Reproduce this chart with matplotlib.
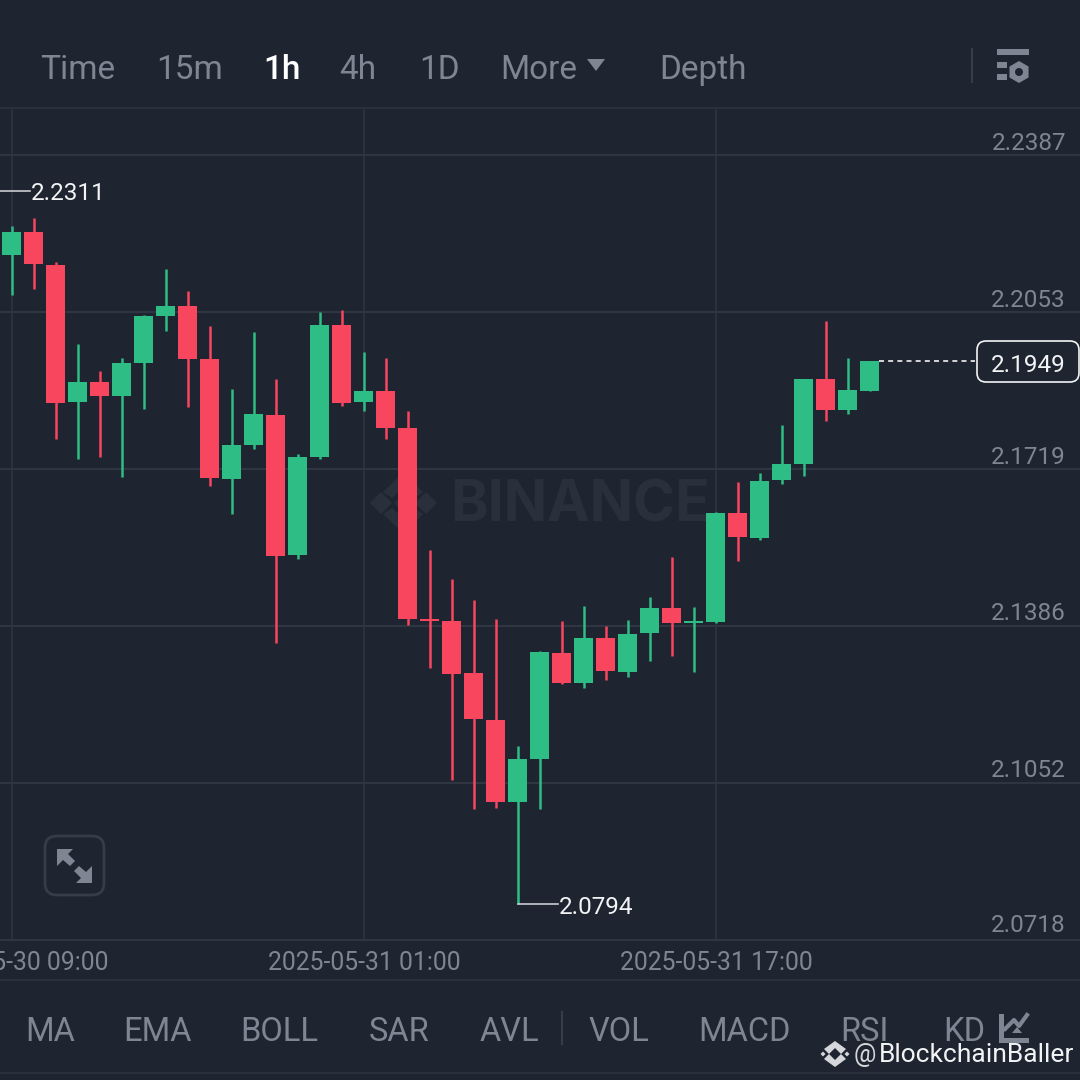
"""1h candlestick chart, dark exchange app screen."""

import matplotlib
matplotlib.use("Agg")
import matplotlib.pyplot as plt
from matplotlib.patches import Circle, FancyBboxPatch, Polygon, Rectangle, RegularPolygon

plt.rcParams["font.family"] = ["Roboto", "DejaVu Sans"]

BG = "#1f2530"
GRID = "#2f3541"
MUTED = "#7f8693"
GREEN = "#2ebd85"
RED = "#f9465f"
WHITE = "#f2f3f5"

# candles, one per hour, starting 2025-05-30 09:00
opens = [2.2175, 2.2223, 2.2154, 2.1861, 2.1904, 2.1874, 2.1944, 2.2045, 2.2066, 2.1953,
         2.1699, 2.1770, 2.1835, 2.1536, 2.1744, 2.2026, 2.1861, 2.1885, 2.1806, 2.1400,
         2.1396, 2.1285, 2.1186, 2.1011, 2.1102, 2.1329, 2.1265, 2.1360, 2.1288, 2.1370,
         2.1424, 2.1392, 2.1394, 2.1625, 2.1573, 2.1696, 2.1730, 2.1910, 2.1846, 2.1886]
closes = [2.2223, 2.2156, 2.1860, 2.1904, 2.1874, 2.1944, 2.2044, 2.2066, 2.1954, 2.1700,
          2.1770, 2.1836, 2.1535, 2.1745, 2.2026, 2.1860, 2.1885, 2.1807, 2.1400, 2.1396,
          2.1284, 2.1187, 2.1011, 2.1102, 2.1330, 2.1264, 2.1360, 2.1289, 2.1369, 2.1424,
          2.1391, 2.1397, 2.1625, 2.1574, 2.1694, 2.1730, 2.1910, 2.1846, 2.1887, 2.1949]
highs = [2.2236, 2.2253, 2.2159, 2.1985, 2.1928, 2.1955, 2.2047, 2.2144, 2.2098, 2.2024,
         2.1889, 2.2011, 2.1911, 2.1751, 2.2053, 2.2057, 2.1968, 2.1955, 2.1843, 2.1548,
         2.1486, 2.1440, 2.1400, 2.1130, 2.1333, 2.1397, 2.1429, 2.1386, 2.1398, 2.1447,
         2.1532, 2.1426, 2.1628, 2.1692, 2.1711, 2.1814, 2.1911, 2.2035, 2.1955, 2.1949]
lows = [2.2089, 2.2102, 2.1783, 2.1740, 2.1745, 2.1702, 2.1847, 2.2013, 2.1851, 2.1683,
        2.1624, 2.1762, 2.1349, 2.1528, 2.1741, 2.1853, 2.1843, 2.1783, 2.1387, 2.1296,
        2.1059, 2.0996, 2.0999, 2.0794, 2.0996, 2.1262, 2.1253, 2.1270, 2.1277, 2.1311,
        2.1321, 2.1287, 2.1393, 2.1524, 2.1568, 2.1688, 2.1705, 2.1821, 2.1837, 2.1886]

price_ticks = [2.2387, 2.2053, 2.1719, 2.1386, 2.1052, 2.0718]
price_tick_labels = ["2.2387", "2.2053", "2.1719", "2.1386", "2.1052", "2.0718"]
time_ticks = [0, 16, 32]
time_labels = ["2025-05-30 09:00", "2025-05-31 01:00", "2025-05-31 17:00"]
visible_high = 2.2311
visible_low = 2.0794
low_index = 23
last_price = 2.1949
last_index = 39

top_tabs = ["Time", "15m", "1h", "4h", "1D", "More", "Depth"]
top_tab_x = [40, 156, 263, 339, 419, 500, 659]
indicators = ["MA", "EMA", "BOLL", "SAR", "AVL", "VOL", "MACD", "RSI", "KD"]
indicator_x = [25, 123, 240, 369, 480, 589, 698, 840, 943]

fig = plt.figure(figsize=(10.8, 10.8), dpi=100, facecolor=BG)

# pixel-coordinate layer for the app chrome
ui = fig.add_axes([0, 0, 1, 1], zorder=0)
ui.set_xlim(0, 1080)
ui.set_ylim(1080, 0)
ui.axis("off")

for name, x in zip(top_tabs, top_tab_x):
    active = name == "1h"
    ui.text(x, 79, name, fontsize=24, color="white" if active else MUTED,
            fontweight="medium" if active else "normal", va="baseline", ha="left")
ui.add_patch(Polygon([(587, 59), (605, 59), (596, 71)], color=MUTED, lw=0))
ui.plot([972, 972], [49, 82], color="#363c48", lw=1.5)
ui.add_patch(Rectangle((997, 49), 32, 6, color=MUTED, lw=0))
ui.add_patch(Rectangle((997, 62), 10, 5.5, color=MUTED, lw=0))
ui.add_patch(Rectangle((997, 74), 10, 5.5, color=MUTED, lw=0))
ui.add_patch(RegularPolygon((1019, 72), 6, radius=11, color=MUTED, lw=0))
ui.add_patch(Circle((1019, 72), 4, color=BG, lw=0))

for y in [108, 980, 1073]:
    ui.plot([0, 1080], [y, y], color="#2a303b", lw=1.5)

# watermark
ui.text(450, 521, "BINANCE", fontsize=41, fontweight="bold", color="#2a303b",
        family="Inter", va="baseline", ha="left")
for cx, cy, size in [(381, 503, 11), (426, 503, 11), (403, 503, 9)]:
    ui.add_patch(Polygon([(cx - size, cy), (cx, cy - size), (cx + size, cy), (cx, cy + size)],
                         color="#2a303b", lw=0))
ui.add_patch(Polygon([(383, 492), (403, 473), (423, 492), (414, 498), (403, 488), (392, 498)],
                     color="#2a303b", lw=0))
ui.add_patch(Polygon([(383, 514), (403, 533), (423, 514), (414, 508), (403, 518), (392, 508)],
                     color="#2a303b", lw=0))

# expand button
ui.add_patch(FancyBboxPatch((53, 844), 43, 43, boxstyle="round,pad=8,rounding_size=12",
                            fc="none", ec="#363c48", lw=2))
arrow = [(57, 849), (73, 849), (68, 854), (75, 861), (70, 866), (63, 860), (57, 866)]
ui.add_patch(Polygon(arrow, color=MUTED, lw=0))
ui.add_patch(Polygon([(149 - x, 1732 - y) for x, y in arrow], color=MUTED, lw=0))

# indicator row
for name, x in zip(indicators, indicator_x):
    ui.text(x, 1041, name, fontsize=23.5, color=MUTED, va="baseline", ha="left")
ui.plot([562, 562], [1012, 1044], color="#363c48", lw=1.5)
ui.add_patch(Polygon([(999, 1014), (1004, 1014), (1004, 1038), (1029, 1038), (1029, 1043), (999, 1043)],
                     color=MUTED, lw=0))
ui.plot([1005, 1014, 1019, 1027], [1029, 1020, 1026, 1015], color=MUTED, lw=3)
ui.add_patch(Polygon([(1012, 1033), (1022, 1033), (1017, 1027)], color=MUTED, lw=0))

# author tag
tag_color = "#d5d7db"
ui.add_patch(Polygon([(835, 1060), (841, 1054), (846, 1059), (835, 1067), (824, 1059), (829, 1054)],
                     color=tag_color, lw=0))
ui.add_patch(Polygon([(835, 1048), (841, 1054), (846, 1049), (835, 1041), (824, 1049), (829, 1054)],
                     color=tag_color, lw=0))
ui.add_patch(Polygon([(835, 1051), (838, 1054), (835, 1057), (832, 1054)], color=BG, lw=0))
ui.add_patch(Polygon([(823, 1051.5), (825.5, 1054), (823, 1056.5), (820.5, 1054)], color=tag_color, lw=0))
ui.add_patch(Polygon([(847, 1051.5), (849.5, 1054), (847, 1056.5), (844.5, 1054)], color=tag_color, lw=0))
ui.text(854, 1062, "@", fontsize=18, color=tag_color, va="baseline", ha="left")
ui.text(879, 1062, "BlockchainBaller", fontsize=19, color=WHITE, va="baseline", ha="left")

# chart area, 22 px per candle and 157 px per price step
ax = fig.add_axes([0, 140 / 1080, 1, 831 / 1080], zorder=1)
ax.patch.set_alpha(0)
ax.set_xlim(-0.523, 48.568)
ax.set_ylim(2.0718, 2.2485)
for side in ["top", "left", "right"]:
    ax.spines[side].set_visible(False)
ax.spines["bottom"].set_color(GRID)
ax.spines["bottom"].set_linewidth(1.5)
ax.set_yticks(price_ticks)
ax.set_xticks(time_ticks)
ax.set_yticklabels([])
ax.set_xticklabels([])
ax.tick_params(length=0)
ax.yaxis.grid(True, color=GRID, linewidth=1.5)
ax.xaxis.grid(True, color=GRID, linewidth=1.1)
ax.set_axisbelow(True)

idx = list(range(len(opens)))
colors = [GREEN if c >= o else RED for o, c in zip(opens, closes)]
ax.vlines(idx, lows, highs, colors=colors, linewidth=1.8, zorder=2)
ax.bar(idx, [abs(c - o) for o, c in zip(opens, closes)],
       bottom=[min(o, c) for o, c in zip(opens, closes)],
       width=0.88, color=colors, linewidth=0, zorder=3)

offsets = [12, 12, 12, 12, 12, 15]
for price, label, off in zip(price_ticks, price_tick_labels, offsets):
    ax.annotate(label, (1, price), xycoords=("axes fraction", "data"),
                xytext=(-14, off), textcoords="offset pixels",
                ha="right", va="center", fontsize=17.5, color=MUTED, annotation_clip=False)

for pos, label in zip(time_ticks, time_labels):
    ax.annotate(label, (pos, 0), xycoords=("data", "axes fraction"),
                xytext=(1, -23), textcoords="offset pixels",
                ha="center", va="center", fontsize=17.8, color=MUTED, annotation_clip=False)

# visible range markers
ax.plot([-0.523, 0.86], [visible_high, visible_high], color="#c9ccd2", lw=1.2, zorder=4)
ax.annotate(f"{visible_high:.4f}", (0.86, visible_high), xytext=(0, -3), textcoords="offset pixels",
            ha="left", va="center", fontsize=17.5, color=WHITE)
ax.plot([low_index, low_index + 1.85], [visible_low, visible_low], color="#c9ccd2", lw=1.2, zorder=4)
ax.annotate(f"{visible_low:.4f}", (low_index + 1.85, visible_low), xytext=(1, -3),
            textcoords="offset pixels", ha="left", va="center", fontsize=17.5, color=WHITE,
            annotation_clip=False)

# last price tag
ax.plot([last_index + 0.45, 43.8], [last_price, last_price], color=WHITE, lw=1.2,
        dashes=(3, 2.5), zorder=4)
ui.add_patch(FancyBboxPatch((985, 349), 86, 25, boxstyle="round,pad=8,rounding_size=9",
                            fc=BG, ec=WHITE, lw=1.2))
ui.text(1028, 365, f"{last_price:.4f}", fontsize=17.5, color=WHITE, ha="center", va="center")

fig.savefig("out.png", dpi=100, facecolor=BG)
plt.close(fig)
